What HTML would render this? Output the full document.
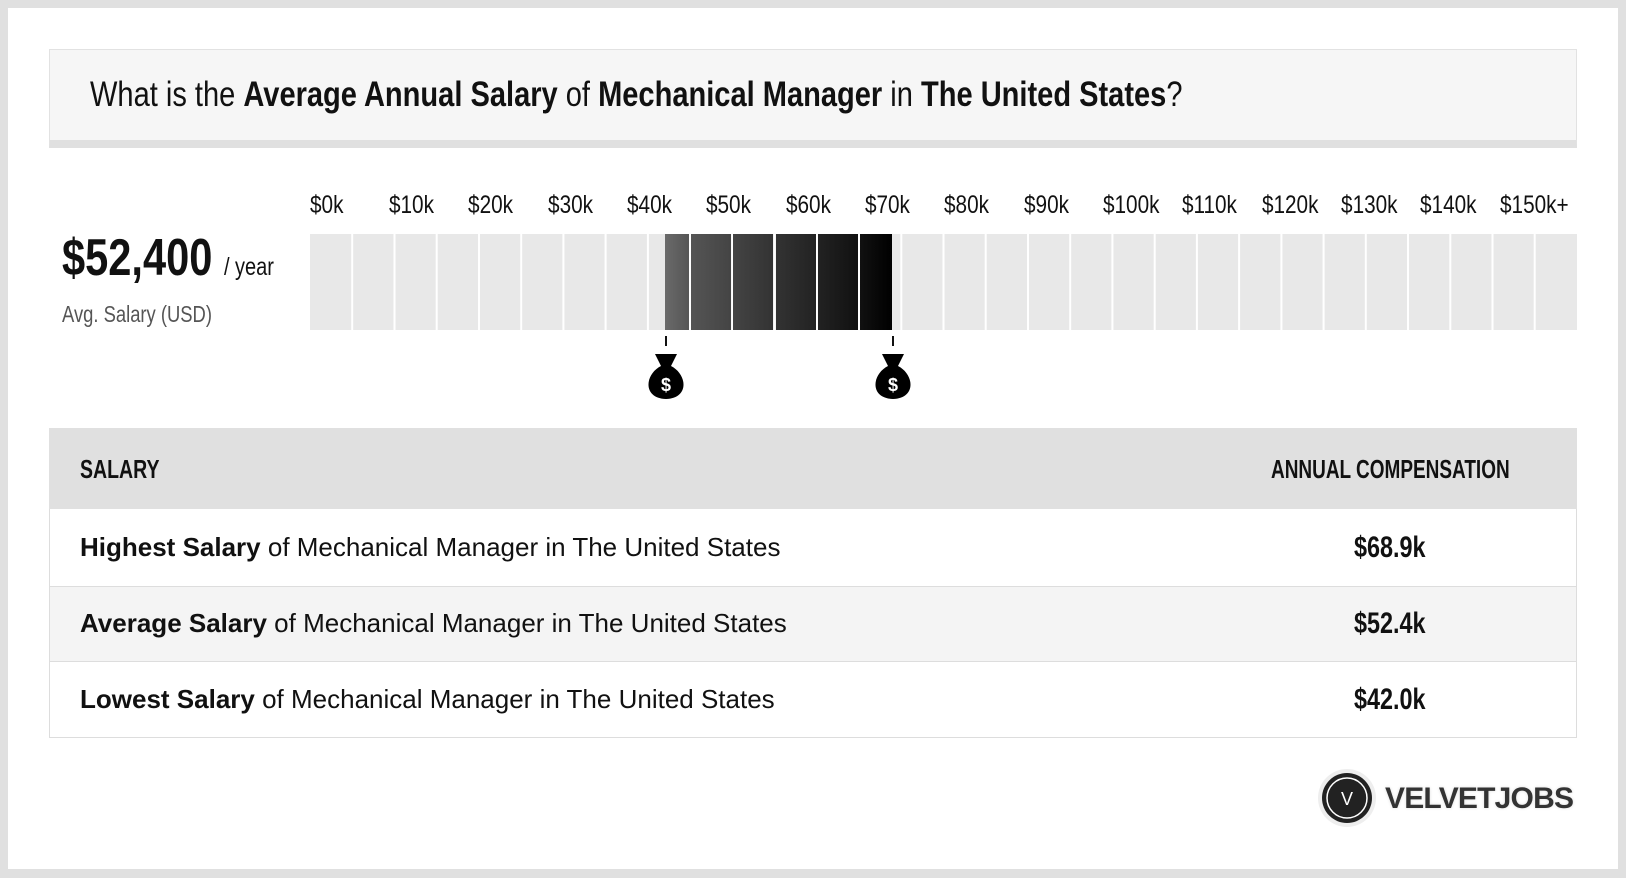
<!DOCTYPE html>
<html><head><meta charset="utf-8"><style>
*{margin:0;padding:0;box-sizing:border-box}
body{width:1626px;height:878px;background:#e0e0e0;position:relative;overflow:hidden;font-family:"Liberation Sans",sans-serif;color:#111}
.c{position:absolute;white-space:nowrap}
.cond{font-family:"Liberation Sans Narrow","Liberation Sans",sans-serif;transform-origin:left center}
</style></head><body>
<div class="c" style="left:8px;top:8px;width:1610px;height:861px;background:#fff"></div>
<div class="c" style="left:49px;top:49px;width:1528px;height:99px;background:#f6f6f6;border:1px solid #e2e2e2;border-bottom:8px solid #e0e0e0"></div>
<div class="c cond" style="left:90px;top:74px;font-size:35px;line-height:42px;transform:scaleX(0.83)">What is the <b>Average Annual Salary</b> of <b>Mechanical Manager</b> in <b>The United States</b>?</div>

<div class="c cond" style="left:62px;top:228px;font-size:52px;line-height:60px;font-weight:bold;transform:scaleX(0.8)">$52,400 <span style="font-size:25px;font-weight:normal">/ year</span></div>
<div class="c cond" style="left:62px;top:300px;font-size:23px;line-height:28px;color:#555;transform:scaleX(0.8)">Avg. Salary (USD)</div>

<svg class="c" style="left:0;top:0" width="1626" height="878">
<g fill="#e8e8e8">
<rect x="310" y="234" width="1267" height="96"/>
</g>
<g stroke="#fff" stroke-width="2">
<line x1="352.2" y1="234" x2="352.2" y2="330"/><line x1="394.5" y1="234" x2="394.5" y2="330"/><line x1="436.7" y1="234" x2="436.7" y2="330"/><line x1="479" y1="234" x2="479" y2="330"/><line x1="521.2" y1="234" x2="521.2" y2="330"/><line x1="563.4" y1="234" x2="563.4" y2="330"/><line x1="605.6" y1="234" x2="605.6" y2="330"/><line x1="647.9" y1="234" x2="647.9" y2="330"/><line x1="690.1" y1="234" x2="690.1" y2="330"/><line x1="732.3" y1="234" x2="732.3" y2="330"/><line x1="774.6" y1="234" x2="774.6" y2="330"/><line x1="816.8" y1="234" x2="816.8" y2="330"/><line x1="859" y1="234" x2="859" y2="330"/><line x1="901.3" y1="234" x2="901.3" y2="330"/><line x1="943.5" y1="234" x2="943.5" y2="330"/><line x1="985.7" y1="234" x2="985.7" y2="330"/><line x1="1028" y1="234" x2="1028" y2="330"/><line x1="1070.2" y1="234" x2="1070.2" y2="330"/><line x1="1112.4" y1="234" x2="1112.4" y2="330"/><line x1="1154.7" y1="234" x2="1154.7" y2="330"/><line x1="1196.9" y1="234" x2="1196.9" y2="330"/><line x1="1239.1" y1="234" x2="1239.1" y2="330"/><line x1="1281.4" y1="234" x2="1281.4" y2="330"/><line x1="1323.6" y1="234" x2="1323.6" y2="330"/><line x1="1365.8" y1="234" x2="1365.8" y2="330"/><line x1="1408" y1="234" x2="1408" y2="330"/><line x1="1450.3" y1="234" x2="1450.3" y2="330"/><line x1="1492.5" y1="234" x2="1492.5" y2="330"/><line x1="1534.7" y1="234" x2="1534.7" y2="330"/>
</g>
<defs>
<linearGradient id="g1"><stop offset="0" stop-color="#6a6a6a"/><stop offset="1" stop-color="#555"/></linearGradient>
<linearGradient id="g2"><stop offset="0" stop-color="#555"/><stop offset="1" stop-color="#444"/></linearGradient>
<linearGradient id="g3"><stop offset="0" stop-color="#444"/><stop offset="1" stop-color="#333"/></linearGradient>
<linearGradient id="g4"><stop offset="0" stop-color="#333"/><stop offset="1" stop-color="#222"/></linearGradient>
<linearGradient id="g5"><stop offset="0" stop-color="#222"/><stop offset="1" stop-color="#111"/></linearGradient>
<linearGradient id="g6"><stop offset="0" stop-color="#111"/><stop offset="1" stop-color="#000"/></linearGradient>
</defs>
<rect x="665" y="234" width="24" height="96" fill="url(#g1)"/>
<rect x="691" y="234" width="40" height="96" fill="url(#g2)"/>
<rect x="733" y="234" width="40" height="96" fill="url(#g3)"/>
<rect x="776" y="234" width="40" height="96" fill="url(#g4)"/>
<rect x="818" y="234" width="40" height="96" fill="url(#g5)"/>
<rect x="860" y="234" width="32" height="96" fill="url(#g6)"/>
<g stroke="#111" stroke-width="2"><line x1="666" y1="336" x2="666" y2="346"/><line x1="893" y1="336" x2="893" y2="346"/></g>
<g fill="#000">
<path d="M655 354 L677 354 L671 366 C687 374 690 398 666 399 C642 398 645 374 661 366 Z"/>
<path d="M882 354 L904 354 L898 366 C914 374 917 398 893 399 C869 398 872 374 888 366 Z"/>
</g>
<g fill="#fff" font-family="Liberation Sans" font-weight="bold" font-size="18" text-anchor="middle">
<text x="666" y="391">$</text><text x="893" y="391">$</text>
</g>
<g font-family="Liberation Sans Narrow, Liberation Sans, sans-serif" font-size="25" fill="#111">
<text x="310" y="213" transform="translate(52.7 0) scale(0.83 1)">$0k</text>
<text x="389" y="213" transform="translate(66.1 0) scale(0.83 1)">$10k</text>
<text x="468" y="213" transform="translate(79.6 0) scale(0.83 1)">$20k</text>
<text x="548" y="213" transform="translate(93.2 0) scale(0.83 1)">$30k</text>
<text x="627" y="213" transform="translate(106.6 0) scale(0.83 1)">$40k</text>
<text x="706" y="213" transform="translate(120 0) scale(0.83 1)">$50k</text>
<text x="786" y="213" transform="translate(133.6 0) scale(0.83 1)">$60k</text>
<text x="865" y="213" transform="translate(147 0) scale(0.83 1)">$70k</text>
<text x="944" y="213" transform="translate(160.5 0) scale(0.83 1)">$80k</text>
<text x="1024" y="213" transform="translate(174.1 0) scale(0.83 1)">$90k</text>
<text x="1103" y="213" transform="translate(187.5 0) scale(0.83 1)">$100k</text>
<text x="1182" y="213" transform="translate(200.9 0) scale(0.83 1)">$110k</text>
<text x="1262" y="213" transform="translate(214.5 0) scale(0.83 1)">$120k</text>
<text x="1341" y="213" transform="translate(228 0) scale(0.83 1)">$130k</text>
<text x="1420" y="213" transform="translate(241.4 0) scale(0.83 1)">$140k</text>
<text x="1500" y="213" transform="translate(255 0) scale(0.83 1)">$150k+</text>
</g>
</svg>

<div class="c" style="left:49px;top:428px;width:1528px;height:81px;background:#e0e0e0"></div>
<div class="c" style="left:49px;top:509px;width:1528px;height:229px;border:1px solid #ddd;border-top:none"></div>
<div class="c" style="left:50px;top:586px;width:1526px;height:76px;background:#f4f4f4;border-top:1px solid #ddd;border-bottom:1px solid #ddd"></div>
<div class="c cond" style="left:80px;top:452px;font-size:26px;line-height:34px;font-weight:bold;transform:scaleX(0.75)">SALARY</div>
<div class="c cond" style="left:1271px;top:452px;font-size:26px;line-height:34px;font-weight:bold;transform:scaleX(0.73)">ANNUAL COMPENSATION</div>

<div class="c" style="left:80px;top:532px;font-size:26px;line-height:30px"><b>Highest Salary</b> of Mechanical Manager in The United States</div>
<div class="c" style="left:80px;top:608px;font-size:26px;line-height:30px"><b>Average Salary</b> of Mechanical Manager in The United States</div>
<div class="c" style="left:80px;top:684px;font-size:26px;line-height:30px"><b>Lowest Salary</b> of Mechanical Manager in The United States</div>
<div class="c cond" style="left:1354px;top:530px;font-size:30px;line-height:36px;font-weight:bold;transform:scaleX(0.78)">$68.9k</div>
<div class="c cond" style="left:1354px;top:606px;font-size:30px;line-height:36px;font-weight:bold;transform:scaleX(0.78)">$52.4k</div>
<div class="c cond" style="left:1354px;top:682px;font-size:30px;line-height:36px;font-weight:bold;transform:scaleX(0.78)">$42.0k</div>

<svg class="c" style="left:1310px;top:765px" width="70" height="70">
<circle cx="37" cy="33" r="29" fill="#eee"/>
<circle cx="37" cy="33" r="25" fill="#222"/>
<circle cx="37" cy="33" r="20" fill="none" stroke="#fff" stroke-width="1.5"/>
<text x="37" y="40" fill="#fff" font-family="Liberation Sans" font-size="18" text-anchor="middle">V</text>
</svg>
<div class="c" style="left:1385px;top:781px;font-size:30px;line-height:36px;font-weight:bold;color:#333;letter-spacing:-0.8px;text-shadow:0 0 3px #ddd">VELVETJOBS</div>
</body></html>
